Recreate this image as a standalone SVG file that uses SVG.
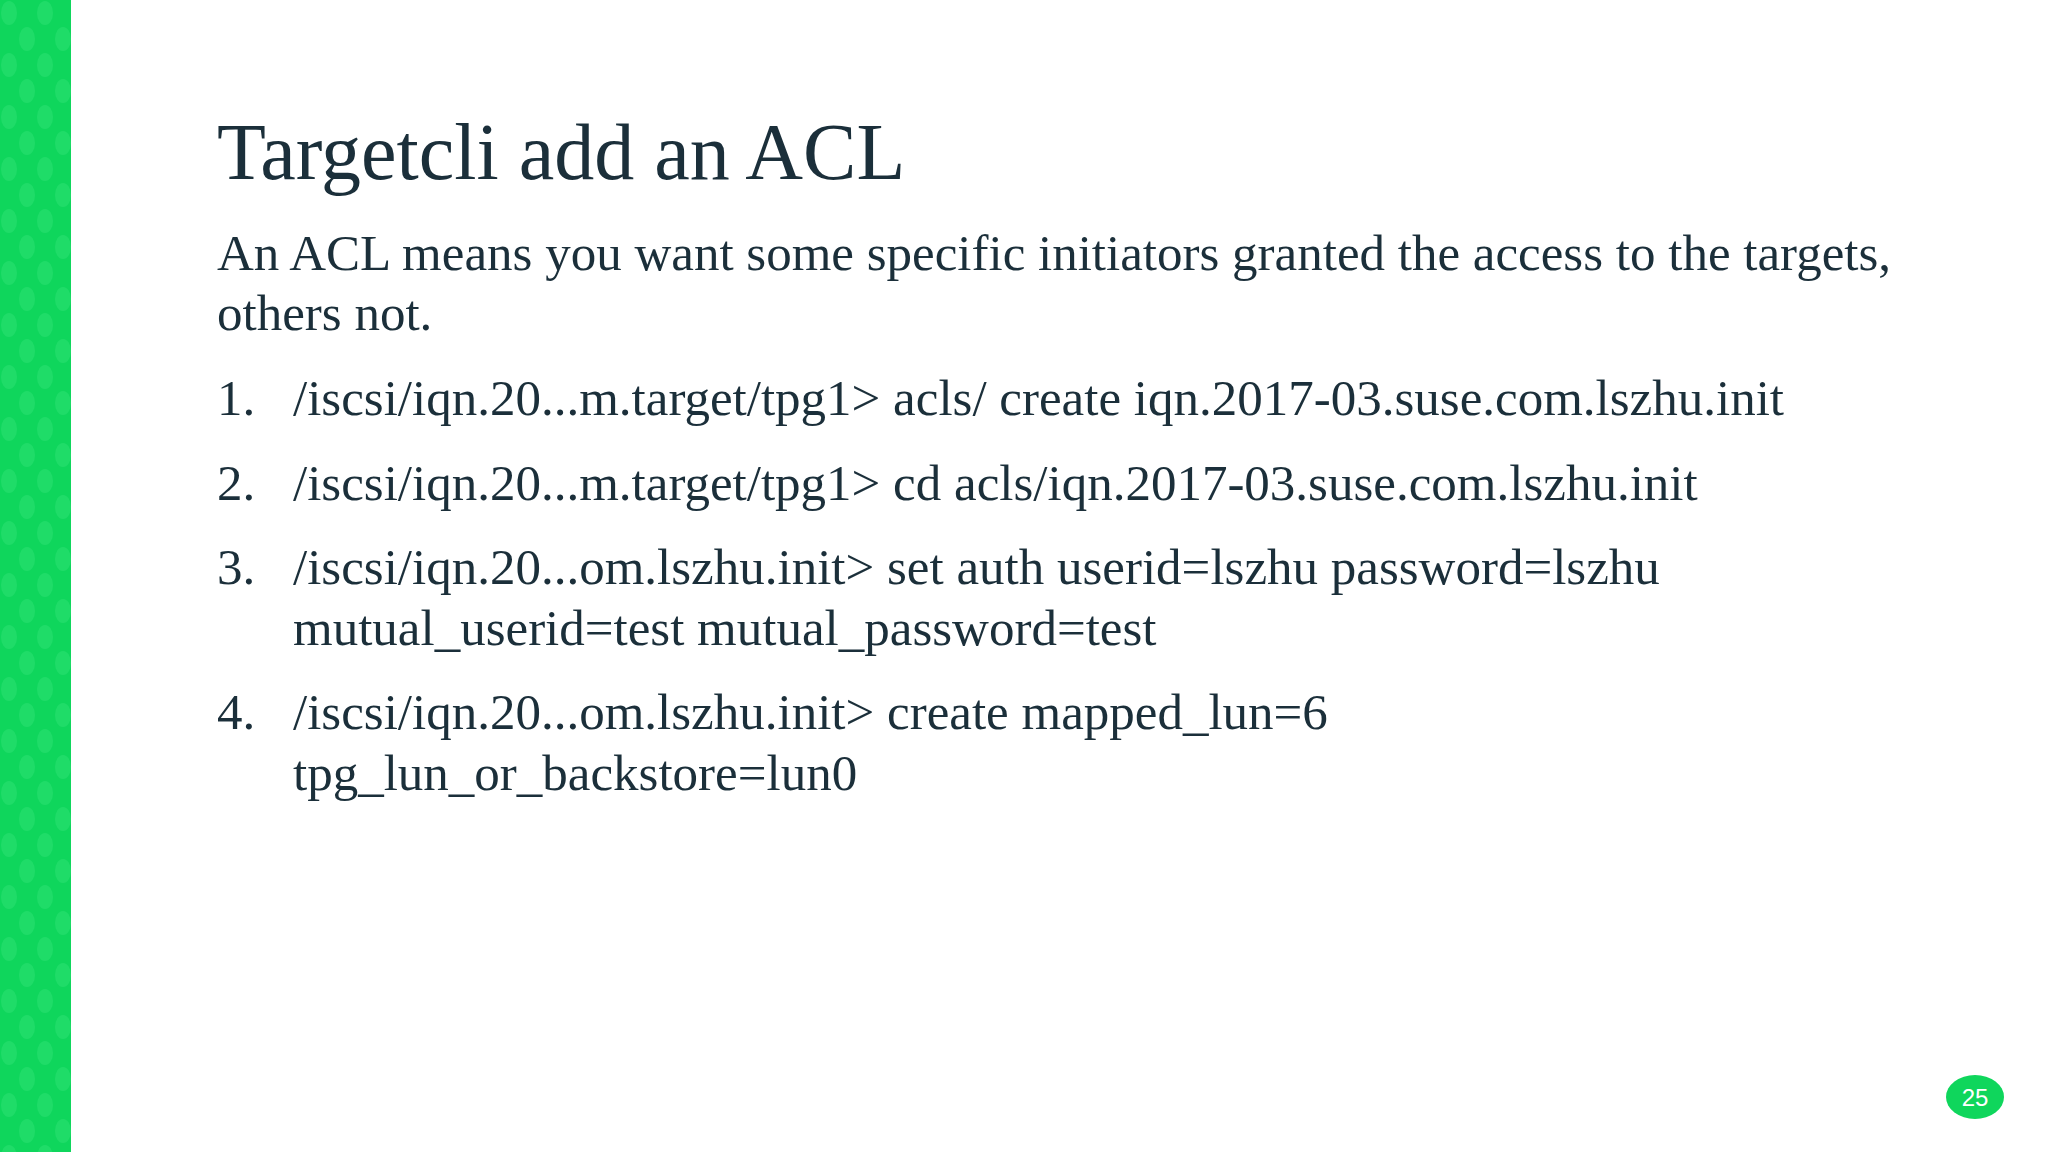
<svg xmlns="http://www.w3.org/2000/svg" width="2048" height="1152" viewBox="0 0 2048 1152">
<defs>
<pattern id="hex" width="36" height="52" patternUnits="userSpaceOnUse">
<rect width="36" height="52" fill="#0fd65c"/>
<ellipse cx="9" cy="13" rx="8" ry="12" fill="#1fdc68"/>
<ellipse cx="27" cy="39" rx="8" ry="12" fill="#1fdc68"/>
</pattern>
</defs>
<style>
.t{font-family:"Liberation Serif","Times New Roman",serif;fill:#1b2f3a}
.b{font-size:51px}
</style>
<rect width="2048" height="1152" fill="#fff"/>
<rect width="71" height="1152" fill="url(#hex)"/>
<text class="t" x="217" y="179" font-size="80">Targetcli add an ACL</text>
<text class="t b" x="217" y="270">An ACL means you want some specific initiators granted the access to the targets,</text>
<text class="t b" x="217" y="330">others not.</text>
<text class="t b" x="217" y="415">1.</text>
<text class="t b" x="293" y="415">/iscsi/iqn.20...m.target/tpg1&gt; acls/ create iqn.2017-03.suse.com.lszhu.init</text>
<text class="t b" x="217" y="500">2.</text>
<text class="t b" x="293" y="500">/iscsi/iqn.20...m.target/tpg1&gt; cd acls/iqn.2017-03.suse.com.lszhu.init</text>
<text class="t b" x="217" y="584">3.</text>
<text class="t b" x="293" y="584">/iscsi/iqn.20...om.lszhu.init&gt; set auth userid=lszhu password=lszhu</text>
<text class="t b" x="293" y="645">mutual_userid=test mutual_password=test</text>
<text class="t b" x="217" y="729">4.</text>
<text class="t b" x="293" y="729">/iscsi/iqn.20...om.lszhu.init&gt; create mapped_lun=6</text>
<text class="t b" x="293" y="790">tpg_lun_or_backstore=lun0</text>
<g id="page">
<ellipse cx="1975" cy="1097" rx="29" ry="22" fill="#0fd65c"/>
<text x="1975" y="1106" font-size="24" text-anchor="middle" font-family="Liberation Sans,Arial,sans-serif" fill="#fff">25</text>
</g>
</svg>
